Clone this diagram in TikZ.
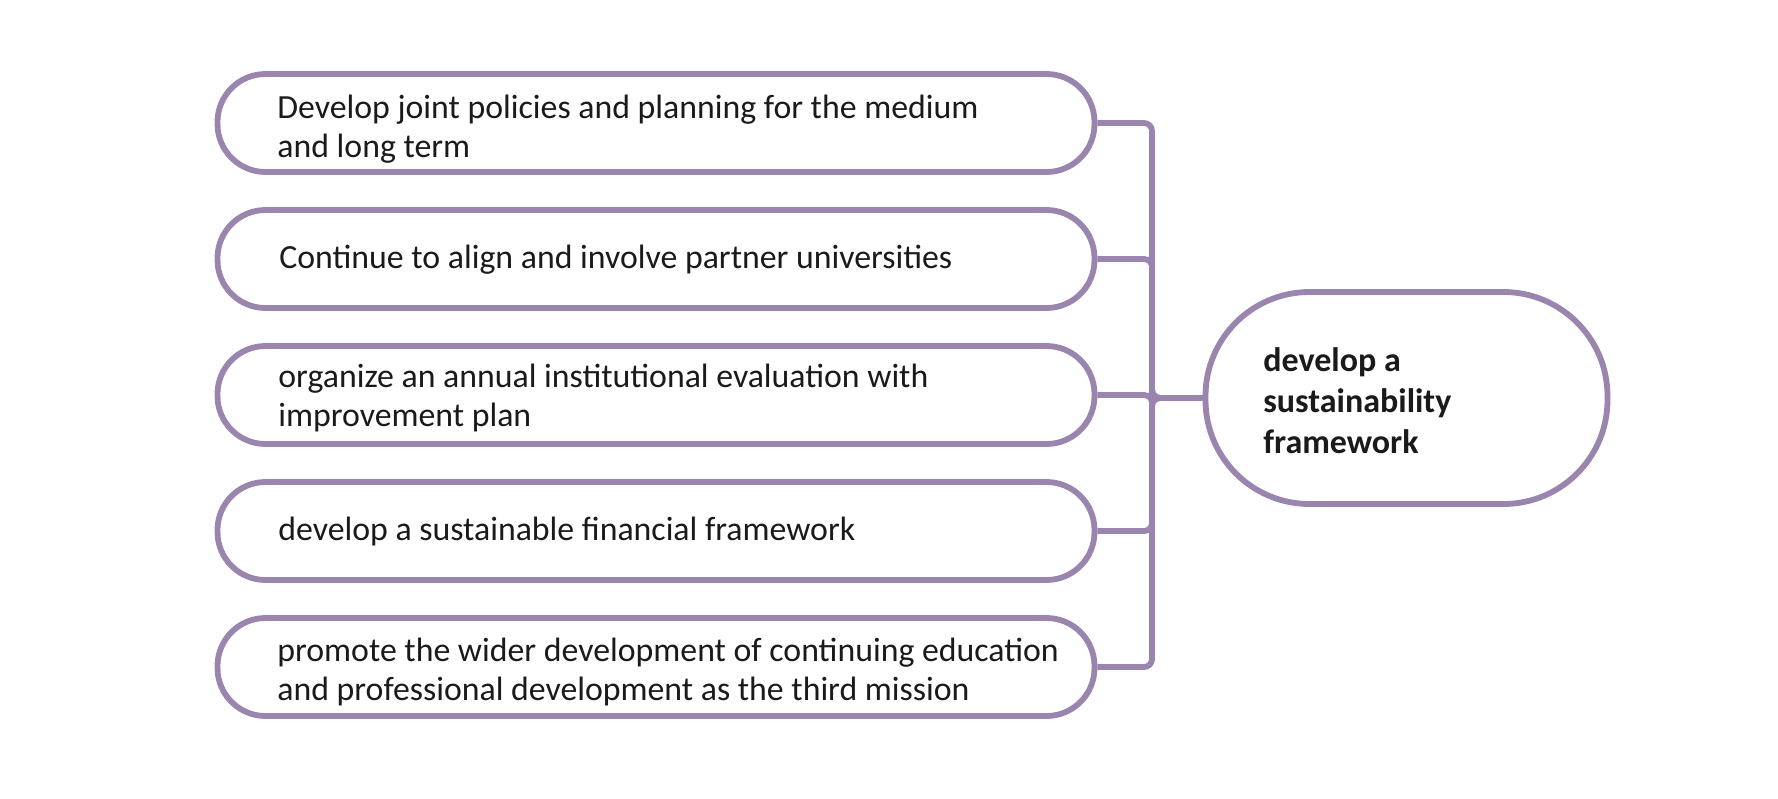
\documentclass[tikz,border=0pt]{standalone}
\usepackage{fontspec}
\setmainfont{Carlito}
\definecolor{lav}{RGB}{154,133,174}
\definecolor{ink}{RGB}{26,26,26}
\begin{document}
\begin{tikzpicture}[x=0.5pt,y=-0.5pt,
  itembox/.style={draw=lav, line width=2.9pt, rectangle, rounded corners=24pt,
    minimum width=438.5pt, minimum height=49pt, inner sep=0pt, fill=white},
  bigbox/.style={draw=lav, line width=2.9pt, rectangle, rounded corners=52pt,
    minimum width=201pt, minimum height=106pt, inner sep=0pt, fill=white},
  itemtxt/.style={anchor=base west, inner sep=0pt, align=left, text=ink,
    font=\fontsize{16.9pt}{19.5pt}\selectfont},
  bigtxt/.style={anchor=base west, inner sep=0pt, align=left, text=ink,
    font=\fontsize{17pt}{20.5pt}\selectfont\bfseries},
  conn/.style={draw=lav, line width=2.9pt, rounded corners=4pt}]
\useasboundingbox (0,0) rectangle (1778,798);
% items
\node[itembox] (b1) at (656,123) {};
\node[itembox] (b2) at (656,259) {};
\node[itembox] (b3) at (656,395) {};
\node[itembox] (b4) at (656,531) {};
\node[itembox] (b5) at (656,667) {};
\node[bigbox] (big) at (1406.5,398) {};
\coordinate (hub) at (1152,398);
% connectors
\draw[conn] (b1.east) -| (hub) -- (big.west);
\draw[conn] (b2.east) -| (hub) -- (big.west);
\draw[conn] (b3.east) -| (hub) -- (big.west);
\draw[conn] (b4.east) -| (hub) -- (big.west);
\draw[conn] (b5.east) -| (hub) -- (big.west);
% texts (base anchor = baseline of last line)
\node[itemtxt] (t1) at (277,157) {Develop joint policies and planning for the medium\\and long term};
\node[itemtxt] (t2) at (279,268) {Continue to align and involve partner universities};
\node[itemtxt] (t3) at (278,426) {organize an annual institutional evaluation with\\improvement plan};
\node[itemtxt] (t4) at (278,540) {develop a sustainable financial framework};
\node[itemtxt] (t5) at (277,700) {promote the wider development of continuing education\\and professional development as the third mission};
\node[bigtxt] (tb) at (1263,453) {develop a\\sustainability\\framework};
\end{tikzpicture}
\end{document}
